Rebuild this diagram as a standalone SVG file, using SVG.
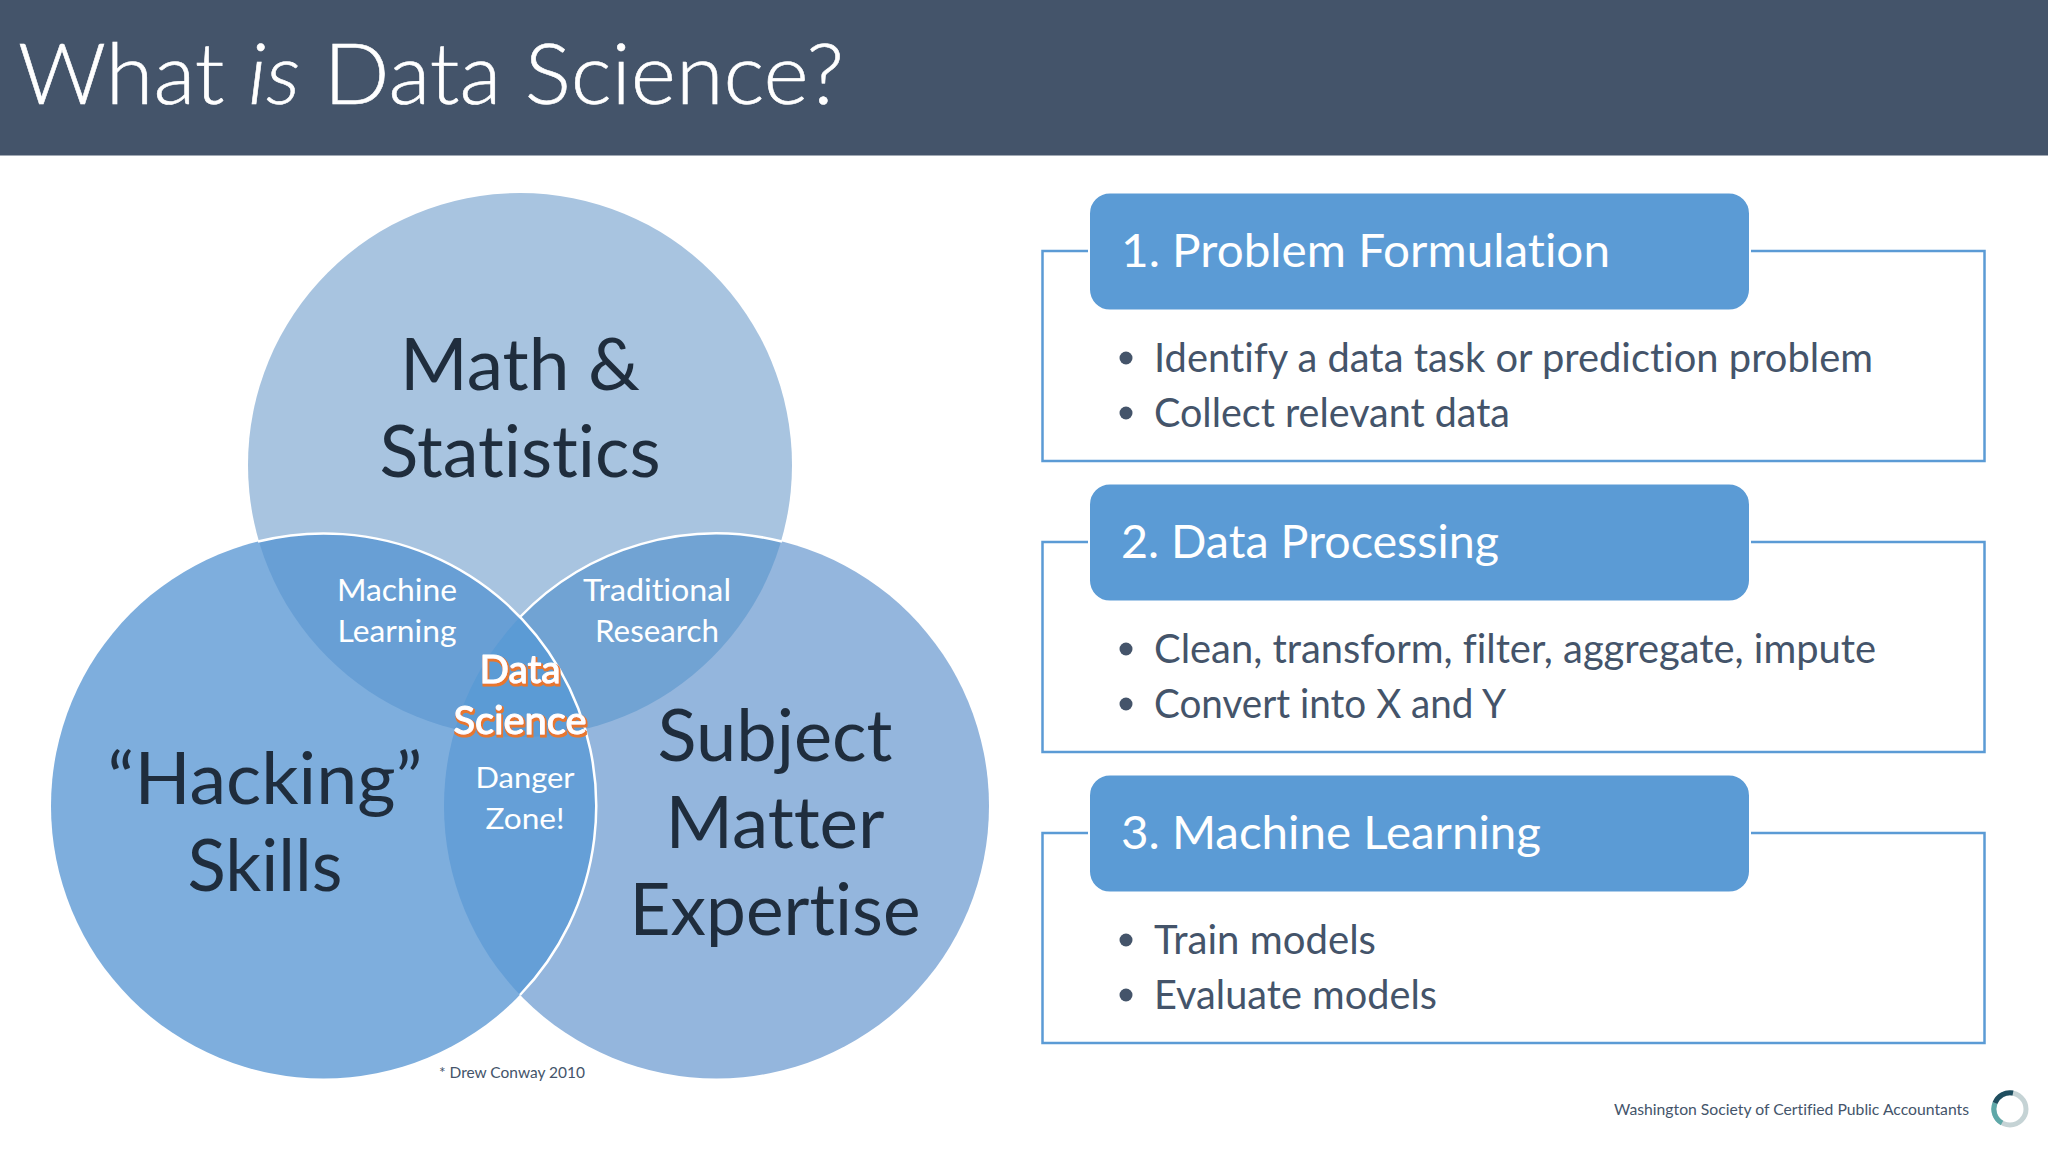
<svg xmlns="http://www.w3.org/2000/svg" width="2048" height="1152" viewBox="0 0 2048 1152">
<style>
text{font-family:Lato,Carlito,"Open Sans",sans-serif;font-variant-ligatures:none}
.big{font-size:72px;fill:#1F2D3D;text-anchor:middle}
.mid{font-size:31px;fill:#fff;text-anchor:middle}
.dz{font-size:29px}
.ds{font-size:38px;font-weight:400;fill:#fff;text-anchor:middle;stroke:#fff;stroke-width:1px;stroke-linejoin:round;filter:url(#glow)}
.head{font-size:47px;fill:#fff}
.item{font-size:40px;fill:#44546A}
.frame{fill:none;stroke:#5B9BD5;stroke-width:2.5}
.pill{fill:#5B9BD5;stroke:#fff;stroke-width:2}
.dot{fill:#44546A}
.small{font-size:16px;fill:#44546A}
.edge{fill:none;stroke:#fff;stroke-width:2.500}
</style>
<defs>
<clipPath id="cT"><circle cx="520" cy="465" r="272"/></clipPath>
<clipPath id="cL"><circle cx="323.500" cy="806" r="272.500"/></clipPath>
<filter id="glow" x="-10%" y="-20%" width="120%" height="140%">
<feMorphology in="SourceAlpha" operator="dilate" radius="1" result="d"/>
<feOffset in="d" dx="0.500" dy="1.500" result="o"/>
<feFlood flood-color="#E8762D"/>
<feComposite in2="o" operator="in" result="s"/>
<feMerge><feMergeNode in="s"/><feMergeNode in="SourceGraphic"/></feMerge>
</filter>
</defs>
<rect width="2048" height="1152" fill="#fff"/>
<g id="header">
<rect width="2048" height="155.500" fill="#44546A"/>
<text x="18" y="104" font-size="85" font-weight="300" fill="#fff" stroke="#fff" stroke-width="0.6" textLength="826" lengthAdjust="spacingAndGlyphs">What <tspan font-style="italic">is</tspan> Data Science?</text>
</g>
<g id="venn">
<g id="circle-math"><circle cx="520" cy="465" r="272" fill="#A8C4E0"/></g>
<g id="circle-subject"><circle cx="716.500" cy="806" r="272.500" fill="#94B6DD"/></g>
<g id="circle-hacking"><circle cx="323.500" cy="806" r="272.500" fill="#7EAEDD"/></g>
<g id="overlap-traditional" clip-path="url(#cT)"><circle cx="716.500" cy="806" r="272.500" fill="#71A3D3"/></g>
<g id="overlap-danger" clip-path="url(#cL)"><circle cx="716.500" cy="806" r="272.500" fill="#659FD7"/></g>
<g id="overlap-ml" clip-path="url(#cT)"><circle cx="323.500" cy="806" r="272.500" fill="#689FD5"/></g>
<g clip-path="url(#cT)"><g id="overlap-center" clip-path="url(#cL)"><circle cx="716.500" cy="806" r="272.500" fill="#5B9BD5"/></g></g>
<g id="edges">
<path class="edge" d="M258 541.500A272.500 272.500 0 0 1 520 995"/>
<path class="edge" d="M520 617A272.500 272.500 0 0 1 782 541.500"/>
</g>
<text class="big" x="520" y="390" textLength="240" lengthAdjust="spacingAndGlyphs">Math &amp;</text>
<text class="big" x="520" y="477" textLength="281" lengthAdjust="spacingAndGlyphs">Statistics</text>
<text class="big" x="265" y="804" textLength="315" lengthAdjust="spacingAndGlyphs">“Hacking”</text>
<text class="big" x="265" y="891" textLength="155" lengthAdjust="spacingAndGlyphs">Skills</text>
<text class="big" x="775" y="761" textLength="235" lengthAdjust="spacingAndGlyphs">Subject</text>
<text class="big" x="775" y="848" textLength="219" lengthAdjust="spacingAndGlyphs">Matter</text>
<text class="big" x="775" y="935" textLength="291" lengthAdjust="spacingAndGlyphs">Expertise</text>
<text class="mid" x="397" y="601" textLength="120" lengthAdjust="spacingAndGlyphs">Machine</text>
<text class="mid" x="397" y="642" textLength="119" lengthAdjust="spacingAndGlyphs">Learning</text>
<text class="mid" x="657" y="601" textLength="148" lengthAdjust="spacingAndGlyphs">Traditional</text>
<text class="mid" x="657" y="642" textLength="124" lengthAdjust="spacingAndGlyphs">Research</text>
<text class="mid dz" x="525" y="788" textLength="99" lengthAdjust="spacingAndGlyphs">Danger</text>
<text class="mid dz" x="525" y="829" textLength="79" lengthAdjust="spacingAndGlyphs">Zone!</text>
<text class="ds" x="520" y="683" textLength="81" lengthAdjust="spacingAndGlyphs">Data</text>
<text class="ds" x="520" y="734" textLength="133" lengthAdjust="spacingAndGlyphs">Science</text>
<text class="small" x="439" y="1078" textLength="146" lengthAdjust="spacingAndGlyphs">* Drew Conway 2010</text>
</g>
<g id="step-1">
<rect class="frame" x="1042.500" y="251" width="942" height="210"/>
<rect class="pill" x="1089" y="192.500" width="661" height="118" rx="21"/>
<text class="head" x="1121" y="267" textLength="489" lengthAdjust="spacingAndGlyphs">1. Problem Formulation</text>
<circle class="dot" cx="1126" cy="358" r="6.500"/><text class="item" x="1154" y="371.500" textLength="719" lengthAdjust="spacingAndGlyphs">Identify a data task or prediction problem</text>
<circle class="dot" cx="1126" cy="413" r="6.500"/><text class="item" x="1154" y="426.500" textLength="356" lengthAdjust="spacingAndGlyphs">Collect relevant data</text>
</g>
<g id="step-2">
<rect class="frame" x="1042.500" y="542" width="942" height="210"/>
<rect class="pill" x="1089" y="483.500" width="661" height="118" rx="21"/>
<text class="head" x="1121" y="557.500" textLength="378" lengthAdjust="spacingAndGlyphs">2. Data Processing</text>
<circle class="dot" cx="1126" cy="649" r="6.500"/><text class="item" x="1154" y="662.500" textLength="722" lengthAdjust="spacingAndGlyphs">Clean, transform, filter, aggregate, impute</text>
<circle class="dot" cx="1126" cy="704" r="6.500"/><text class="item" x="1154" y="717.500" textLength="352" lengthAdjust="spacingAndGlyphs">Convert into X and Y</text>
</g>
<g id="step-3">
<rect class="frame" x="1042.500" y="833" width="942" height="210"/>
<rect class="pill" x="1089" y="774.500" width="661" height="118" rx="21"/>
<text class="head" x="1121" y="848.500" textLength="420" lengthAdjust="spacingAndGlyphs">3. Machine Learning</text>
<circle class="dot" cx="1126" cy="940" r="6.500"/><text class="item" x="1154" y="953.500" textLength="222" lengthAdjust="spacingAndGlyphs">Train models</text>
<circle class="dot" cx="1126" cy="995" r="6.500"/><text class="item" x="1154" y="1008.500" textLength="283" lengthAdjust="spacingAndGlyphs">Evaluate models</text>
</g>
<g id="footer">
<text class="small" x="1614" y="1115" textLength="355" lengthAdjust="spacingAndGlyphs">Washington Society of Certified Public Accountants</text>
<circle cx="2010" cy="1109" r="16" fill="none" stroke="#C5D3D5" stroke-width="5"/>
<path d="M2002 1123A16 16 0 0 1 1995 1103" fill="none" stroke="#5FA8A8" stroke-width="5"/>
<path d="M1995 1103A16 16 0 0 1 2013 1093" fill="none" stroke="#1F4E5F" stroke-width="5"/>
</g>
</svg>
